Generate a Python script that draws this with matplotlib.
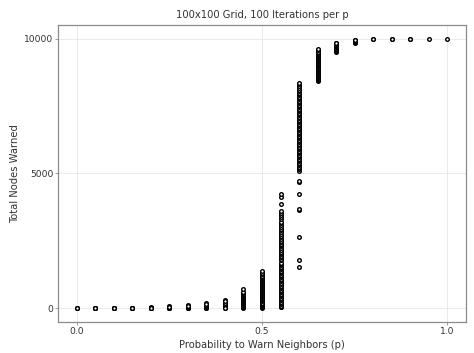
import numpy as np
import matplotlib
matplotlib.use("Agg")
import matplotlib.pyplot as plt

# ---------------------------------------------------------
# Data (one list of runs per p)
# ---------------------------------------------------------

p_values = [0.0, 0.05, 0.1, 0.15, 0.2, 0.25, 0.3, 0.35, 0.4, 0.45, 0.5,
            0.55, 0.6, 0.65, 0.7, 0.75, 0.8, 0.85, 0.9, 0.95, 1.0]

warned_00 = [1, 1, 2]
warned_05 = [1, 2, 3, 2, 4]
warned_10 = [1, 2, 4, 3, 6, 8]
warned_15 = [2, 5, 8, 12, 4, 15]
warned_20 = [3, 10, 18, 25, 35, 8, 14]
warned_25 = [5, 12, 30, 45, 60, 75, 20, 38, 52]
warned_30 = [5, 20, 45, 70, 95, 120, 30, 58, 82, 108]
warned_35 = [10, 30, 60, 90, 120, 150, 185, 45, 75, 105, 135, 165]
warned_40 = [10, 40, 80, 120, 160, 200, 240, 280, 315, 60, 100, 140, 180, 220, 260, 25]
warned_45 = [10, 35, 50, 75, 100, 125, 150, 175, 200, 225, 250, 275, 300, 325,
             350, 375, 400, 425, 450, 480, 520, 560, 610, 720]
warned_50 = [20, 50, 80, 115, 150, 185, 220, 260, 300, 340, 380, 415, 450, 485,
             520, 560, 600, 640, 680, 715, 750, 790, 830, 865, 900, 940, 980,
             1015, 1050, 1085, 1120, 1160, 1200, 1280, 1310, 1390]
warned_55 = [40, 70, 100, 150, 200, 250, 300, 350, 400, 450, 500, 550, 600, 650,
             700, 750, 800, 850, 900, 950, 1000, 1050, 1100, 1150, 1200, 1250,
             1300, 1350, 1400, 1450, 1500, 1550, 1600, 1650, 1700, 1780, 1850,
             1900, 1950, 2000, 2050, 2100, 2150, 2230, 2300, 2350, 2400, 2450,
             2500, 2570, 2650, 2700, 2750, 2820, 2900, 2950, 3000, 3080, 3150,
             3220, 3300, 3380, 3450, 3530, 3600, 3880, 4120, 4240]
warned_60 = [1530, 1810, 2640, 3640, 3680, 4240, 4670, 4740,
             5100, 5150, 5200, 5250, 5300, 5350, 5400, 5450, 5500, 5550, 5600,
             5650, 5700, 5750, 5800, 5850, 5900, 5950, 6000, 6050, 6100, 6150,
             6200, 6250, 6300, 6350, 6400, 6450, 6500, 6550, 6600, 6650, 6700,
             6750, 6800, 6850, 6900, 6950, 7000, 7050, 7100, 7150, 7200, 7250,
             7300, 7350, 7400, 7450, 7500, 7550, 7600, 7650, 7700, 7750, 7800,
             7850, 7900, 7950, 8000, 8050, 8100, 8170, 8250, 8310, 8370]
warned_65 = [8440, 8470, 8500, 8530, 8560, 8590, 8620, 8650, 8680, 8710, 8740,
             8770, 8800, 8830, 8860, 8890, 8920, 8950, 8980, 9010, 9040, 9070,
             9100, 9130, 9160, 9190, 9220, 9250, 9280, 9310, 9340, 9370, 9400,
             9430, 9460, 9490, 9520, 9560, 9610]
warned_70 = [9500, 9530, 9560, 9590, 9620, 9650, 9680, 9710, 9740, 9770, 9800,
             9830, 9850]
warned_75 = [9840, 9860, 9880, 9900, 9920, 9940, 9950]
warned_80 = [9990, 10000]
warned_85 = [9995, 10000]
warned_90 = [9998, 10000]
warned_95 = [10000]
warned_100 = [10000]

all_runs = [warned_00, warned_05, warned_10, warned_15, warned_20, warned_25,
            warned_30, warned_35, warned_40, warned_45, warned_50, warned_55,
            warned_60, warned_65, warned_70, warned_75, warned_80, warned_85,
            warned_90, warned_95, warned_100]

xs = []
ys = []
for p, runs in zip(p_values, all_runs):
    xs += [p] * len(runs)
    ys += runs

# ---------------------------------------------------------
# Plot
# ---------------------------------------------------------

fig = plt.figure(figsize=(4.74, 3.53), dpi=100)
ax = fig.add_axes([0.1224, 0.088, 0.8608, 0.841])

ax.plot(xs, ys, linestyle='none', marker='o', markersize=2.6,
        markerfacecolor='white', markeredgecolor='black', markeredgewidth=1.0)

ax.set_xlim(-0.05, 1.05)
ax.set_ylim(-500, 10500)
ax.set_xticks([0.0, 0.5, 1.0])
ax.set_xticklabels(['0.0', '0.5', '1.0'])
ax.set_yticks([0, 5000, 10000])
ax.set_yticklabels(['0', '5000', '10000'])

ax.grid(True, color='#e6e6e6', linewidth=0.6)
ax.set_axisbelow(True)
for s in ax.spines.values():
    s.set_color('#8c8c8c')
    s.set_linewidth(0.9)
ax.tick_params(length=2, width=0.6, color='#8c8c8c', labelsize=6.6,
               labelcolor='#333333', pad=1.5)

ax.set_title('100x100 Grid, 100 Iterations per p', fontsize=7.2, color='#333333', pad=5)
ax.set_xlabel('Probability to Warn Neighbors (p)', fontsize=7.2, color='#333333', labelpad=3)
ax.set_ylabel('Total Nodes Warned', fontsize=7.2, color='#333333', labelpad=3)

fig.savefig('out.png', dpi=100)
